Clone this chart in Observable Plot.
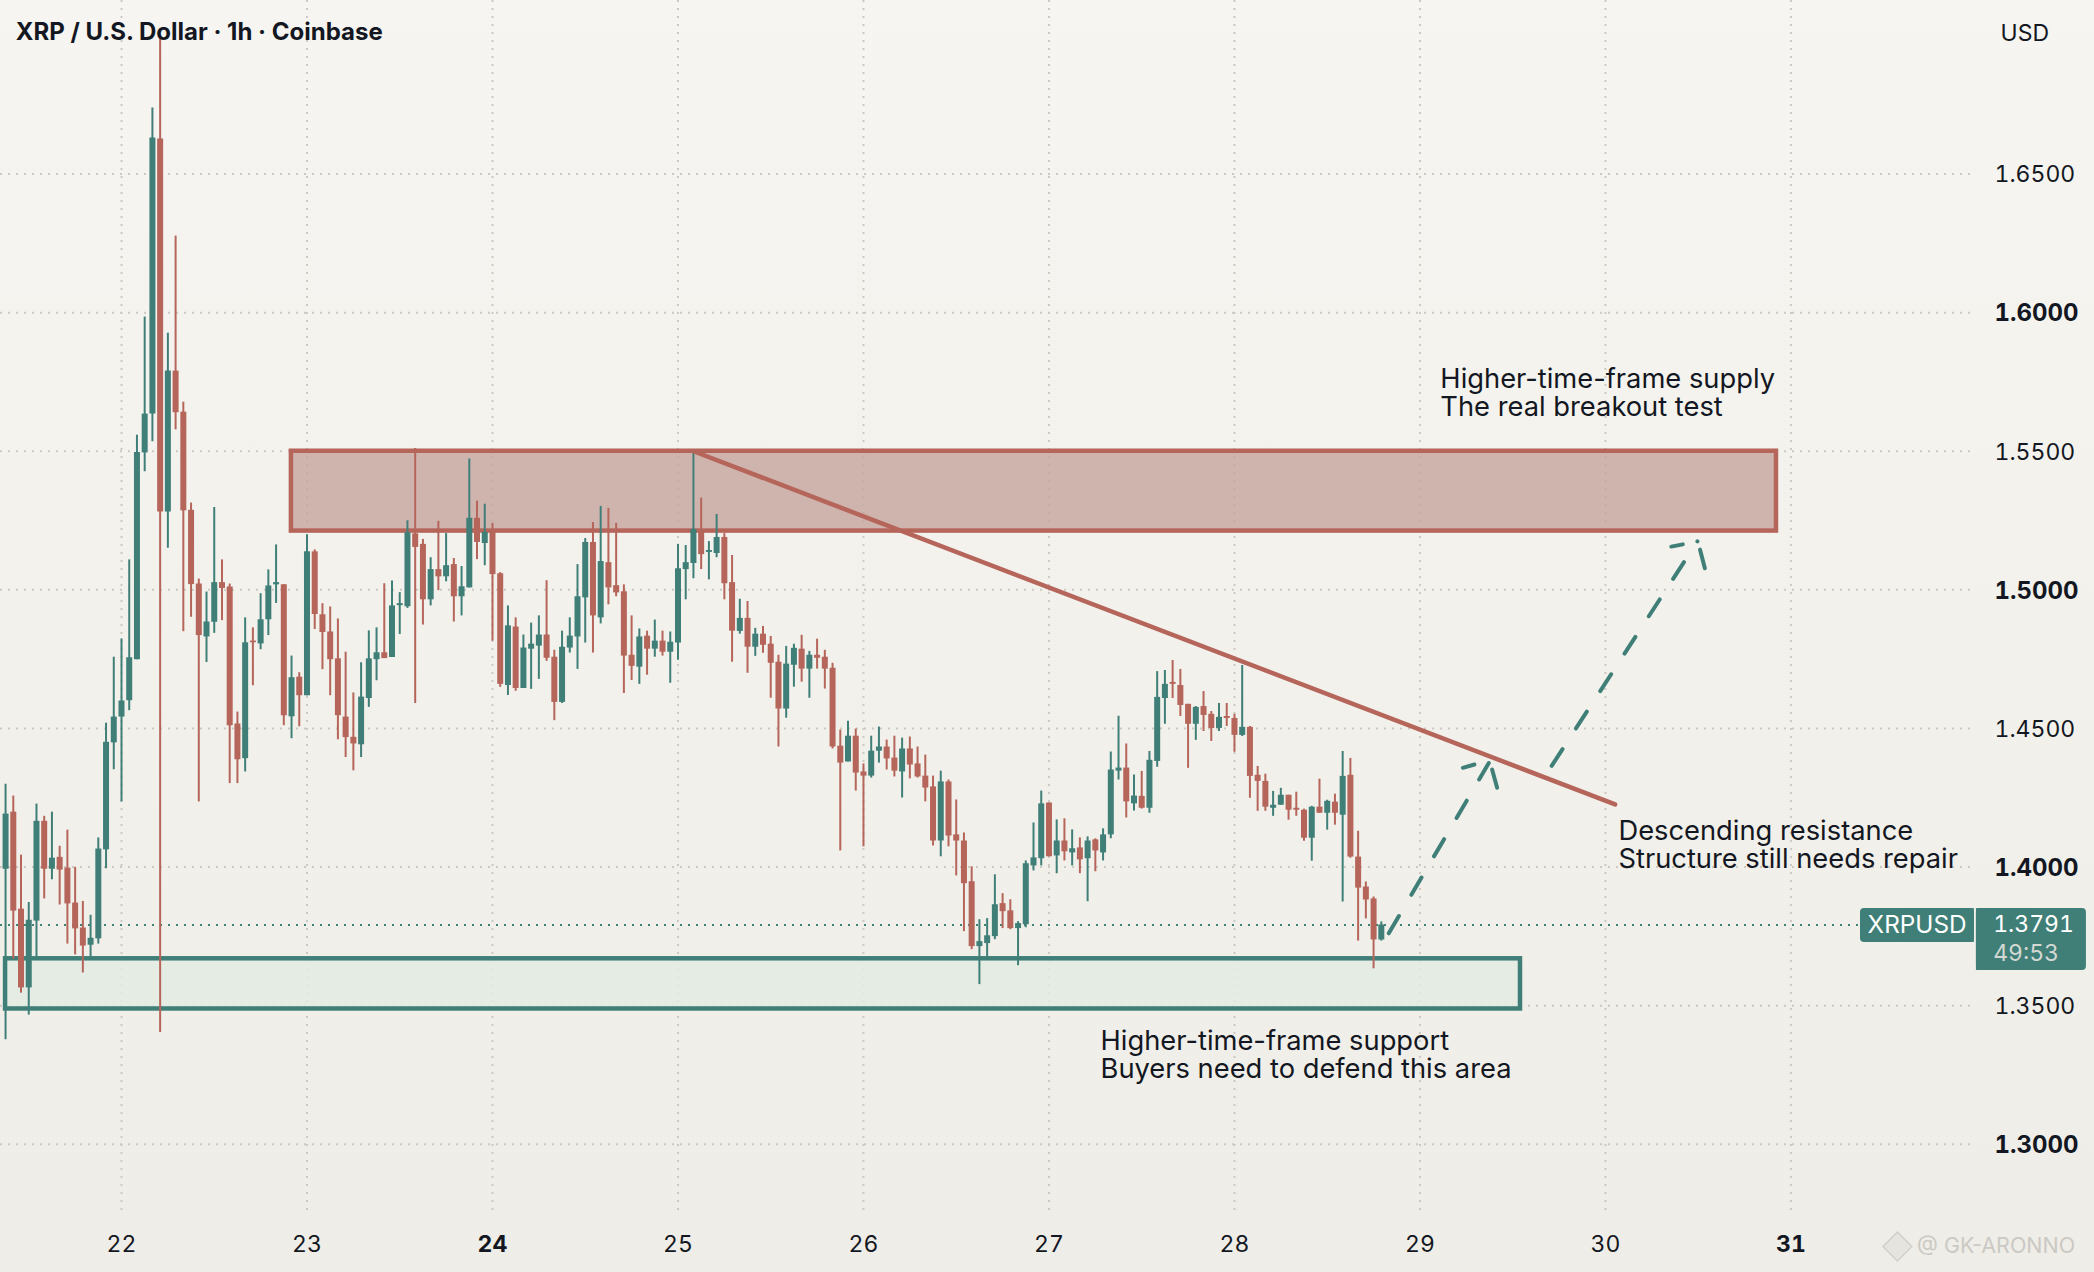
<!DOCTYPE html>
<html>
<head>
<meta charset="utf-8">
<script src="https://cdn.jsdelivr.net/npm/d3@7"></script>
<script src="https://cdn.jsdelivr.net/npm/@observablehq/plot@0.6"></script>
<style>
html,body{margin:0;padding:0;width:2094px;height:1272px;overflow:hidden;background:linear-gradient(#f6f5f1,#efede7);}
svg{display:block}
</style>
</head>
<body>
<div id="chart"></div>
<script>
const opens=[1.3992,1.4198,1.3848,1.3564,1.3805,1.4165,1.3992,1.4035,1.3996,1.3870,
1.3780,1.3718,1.3741,1.4062,1.4448,1.4541,1.4600,1.4748,1.5494,1.5634,
1.6626,1.5281,1.5789,1.5641,1.5287,1.5021,1.4830,1.4883,1.5026,1.5010,
1.4516,1.4391,1.4815,1.4805,1.4892,1.5018,1.5018,1.4542,1.4685,1.4618,
1.5137,1.4910,1.4848,1.4751,1.4541,1.4468,1.4441,1.4608,1.4748,1.4773,
1.4756,1.4943,1.4939,1.5202,1.5164,1.4964,1.5073,1.5047,1.5091,1.4975,
1.5007,1.5258,1.5167,1.5207,1.5058,1.4655,1.4866,1.4644,1.4786,1.4797,
1.4837,1.4757,1.4594,1.4790,1.4830,1.4971,1.5171,1.4899,1.5098,1.5015,
1.4993,1.4764,1.4721,1.4833,1.4786,1.4815,1.4775,1.4808,1.5073,1.5095,
1.5211,1.5135,1.5131,1.5189,1.5026,1.4850,1.4897,1.4793,1.4840,1.4804,
1.4739,1.4570,1.4728,1.4786,1.4714,1.4764,1.4757,1.4717,1.4436,1.4379,
1.4472,1.4343,1.4328,1.4418,1.4433,1.4393,1.4343,1.4426,1.4372,1.4328,
1.4289,1.4094,1.4307,1.4116,1.4094,1.3947,1.3713,1.3724,1.3749,1.3868,
1.3842,1.3778,1.3792,1.4004,1.4030,1.4231,1.4040,1.4094,1.4051,1.4069,
1.4030,1.4098,1.4051,1.4116,1.4346,1.4357,1.4228,1.4255,1.4212,1.4381,
1.4608,1.4666,1.4655,1.4587,1.4515,1.4579,1.4551,1.4500,1.4543,1.4536,
1.4475,1.4504,1.4331,1.4309,1.4212,1.4223,1.4259,1.4212,1.4205,1.4104,
1.4216,1.4194,1.4234,1.4187,1.4331,1.4036,1.3928,1.3885,1.3737];
const closes=[1.4191,1.3841,1.3564,1.3808,1.4165,1.3992,1.4032,1.3989,1.3867,1.3777,
1.3715,1.3743,1.4065,1.4450,1.4541,1.4599,1.4755,1.5495,1.5634,1.6630,
1.5281,1.5789,1.5639,1.5285,1.5019,1.4835,1.4884,1.5026,1.5005,1.4510,
1.4387,1.4809,1.4809,1.4892,1.5014,1.5026,1.4546,1.4683,1.4618,1.5137,
1.4911,1.4846,1.4748,1.4546,1.4467,1.4444,1.4613,1.4751,1.4773,1.4752,
1.4942,1.4950,1.5206,1.5153,1.4964,1.5073,1.5047,1.5087,1.4975,1.5011,
1.5258,1.5171,1.5207,1.5055,1.4659,1.4870,1.4644,1.4790,1.4804,1.4837,
1.4753,1.4594,1.4793,1.4833,1.4975,1.5171,1.4906,1.5102,1.5007,1.4989,
1.4761,1.4724,1.4830,1.4786,1.4815,1.4775,1.4811,1.5076,1.5098,1.5218,
1.5127,1.5142,1.5189,1.5022,1.4851,1.4897,1.4793,1.4840,1.4800,1.4735,
1.4570,1.4732,1.4789,1.4714,1.4764,1.4753,1.4714,1.4433,1.4375,1.4472,
1.4339,1.4328,1.4418,1.4433,1.4390,1.4346,1.4426,1.4368,1.4325,1.4285,
1.4094,1.4307,1.4112,1.4094,1.3940,1.3713,1.3731,1.3752,1.3864,1.3839,
1.3778,1.3796,1.4012,1.4033,1.4228,1.4037,1.4094,1.4055,1.4066,1.4026,
1.4094,1.4058,1.4116,1.4350,1.4357,1.4235,1.4256,1.4212,1.4385,1.4612,
1.4659,1.4659,1.4583,1.4515,1.4576,1.4547,1.4500,1.4540,1.4536,1.4475,
1.4504,1.4327,1.4309,1.4216,1.4223,1.4259,1.4205,1.4205,1.4104,1.4216,
1.4194,1.4237,1.4194,1.4327,1.4036,1.3924,1.3881,1.3737,1.3791];
const highs=[1.4299,1.4256,1.4043,1.3872,1.4227,1.4183,1.4198,1.4075,1.4133,1.3999,
1.3876,1.3826,1.4105,1.4519,1.4757,1.4823,1.5108,1.5558,1.5984,1.6738,
1.6990,1.5926,1.6276,1.5677,1.5313,1.5039,1.4992,1.5297,1.5108,1.5021,
1.4559,1.4899,1.4863,1.4986,1.5072,1.5162,1.5018,1.4761,1.4701,1.5199,
1.5144,1.4950,1.4938,1.4895,1.4775,1.4628,1.4737,1.4852,1.4863,1.5022,
1.5032,1.4990,1.5249,1.5510,1.5182,1.5116,1.5247,1.5203,1.5113,1.5084,
1.5472,1.5320,1.5309,1.5240,1.5062,1.4942,1.4899,1.4837,1.4880,1.4906,
1.5033,1.4782,1.4851,1.4899,1.5091,1.5185,1.5243,1.5301,1.5294,1.5240,
1.5018,1.4906,1.4859,1.4851,1.4891,1.4851,1.4848,1.5164,1.5160,1.5501,
1.5331,1.5174,1.5272,1.5203,1.5124,1.4966,1.4958,1.4861,1.4868,1.4832,
1.4764,1.4796,1.4804,1.4836,1.4778,1.4822,1.4782,1.4735,1.4494,1.4526,
1.4498,1.4372,1.4472,1.4505,1.4458,1.4472,1.4465,1.4469,1.4433,1.4404,
1.4328,1.4346,1.4314,1.4242,1.4123,1.4001,1.3810,1.3814,1.3972,1.3904,
1.3882,1.3803,1.4022,1.4159,1.4274,1.4231,1.4170,1.4174,1.4134,1.4105,
1.4109,1.4102,1.4138,1.4415,1.4544,1.4444,1.4332,1.4345,1.4417,1.4705,
1.4709,1.4745,1.4713,1.4587,1.4579,1.4633,1.4561,1.4590,1.4590,1.4551,
1.4727,1.4507,1.4363,1.4335,1.4273,1.4284,1.4259,1.4270,1.4209,1.4219,
1.4317,1.4241,1.4263,1.4417,1.4392,1.4129,1.3946,1.3892,1.3802];
const lows=[1.3377,1.3667,1.3545,1.3466,1.3667,1.3885,1.3954,1.3863,1.3722,1.3683,
1.3618,1.3670,1.3722,1.3994,1.4351,1.4235,1.4564,1.4748,1.5426,1.5534,
1.3403,1.5150,1.5577,1.4849,1.4901,1.4235,1.4738,1.4843,1.4889,1.4301,
1.4301,1.4343,1.4654,1.4784,1.4835,1.4951,1.4510,1.4463,1.4506,1.4618,
1.4857,1.4712,1.4618,1.4459,1.4395,1.4347,1.4395,1.4576,1.4672,1.4752,
1.4756,1.4839,1.4933,1.4590,1.4873,1.4942,1.4997,1.5029,1.4884,1.4906,
1.5007,1.5109,1.5087,1.4815,1.4648,1.4619,1.4634,1.4644,1.4641,1.4677,
1.4742,1.4528,1.4590,1.4772,1.4713,1.4808,1.4772,1.4877,1.4946,1.4975,
1.4626,1.4673,1.4659,1.4692,1.4757,1.4761,1.4663,1.4746,1.4964,1.5040,
1.5073,1.5036,1.5116,1.4964,1.4739,1.4840,1.4699,1.4760,1.4771,1.4609,
1.4433,1.4537,1.4649,1.4667,1.4609,1.4714,1.4642,1.4426,1.4058,1.4379,
1.4274,1.4073,1.4321,1.4375,1.4350,1.4325,1.4249,1.4318,1.4321,1.4235,
1.4076,1.4037,1.4073,1.3968,1.3767,1.3702,1.3576,1.3670,1.3738,1.3778,
1.3774,1.3644,1.3781,1.3986,1.4004,1.4037,1.3976,1.4022,1.4004,1.3976,
1.3875,1.3983,1.4022,1.4102,1.4314,1.4177,1.4202,1.4209,1.4194,1.4360,
1.4515,1.4608,1.4543,1.4356,1.4457,1.4489,1.4453,1.4489,1.4507,1.4414,
1.4471,1.4248,1.4201,1.4201,1.4183,1.4223,1.4169,1.4183,1.4093,1.4021,
1.4194,1.4133,1.4151,1.3874,1.4032,1.3733,1.3813,1.3633,1.3733];

const firstCandleDay=21+9/24;
const dayTicks=[22,23,25,26,27,28,29,30];
const dayTicksBold=[24,31];
const priceTicks=[1.65,1.55,1.45,1.35];
const priceTicksBold=[1.60,1.50,1.40,1.30];
const lastPrice=1.3791;

const supplyZone={x1:22.916,x2:30.922,y1:1.5212,y2:1.55};
const supportZone={x1:21.375,x2:29.542,y1:1.3488,y2:1.3669};
const trendDays=[25.084,30.052];
const trendPrices=[1.55,1.4226];

const shaftDays=[28.832,29.371,29.710,30.496];
const shaftPrices=[1.3761,1.4375,1.4365,1.5175];
const shaftIds=["a","a","b","b"];
const armDays=[29.231,29.294,29.416,29.389,30.355,30.417,30.536,30.510];
const armPrices=[1.4358,1.4370,1.4286,1.4352,1.5156,1.5164,1.5078,1.5145];
const armIds=["c","c","d","d","e","e","f","f"];

const noteTexts=["Higher-time-frame supply","The real breakout test","Descending resistance","Structure still needs repair","Higher-time-frame support","Buyers need to defend this area"];
const noteDays=[29.11,29.11,30.07,30.07,27.278,27.278];
const notePrices=[1.5759,1.5658,1.4129,1.4028,1.3372,1.3271];

const green="#3f7f78", red="#b5655a", gridColor="#ccc9c3", ink="#131722";
const fontFamily="Inter, 'Noto Sans', sans-serif";

const candles=opens.map((o,i)=>({day:firstCandleDay+i/24,open:o,close:closes[i],high:highs[i],low:lows[i],color:closes[i]>=o?green:red}));
const zip=(a,b,c)=>a.map((v,i)=>({x:v,y:b[i],id:c?c[i]:0}));
const notes=noteTexts.map((t,i)=>({t,x:noteDays[i],y:notePrices[i]}));
const tagLeft={x1:31.375,x2:31.989,y1:1.3728,y2:1.3850};
const tagRight={x1:32.0,x2:32.593,y1:1.3627,y2:1.3850};

const chart=Plot.plot({
  width:2094,height:1272,
  marginLeft:0,marginRight:124,marginTop:0,marginBottom:62,
  style:{background:"transparent",fontFamily},
  x:{domain:[21.3477,31.968]},
  y:{domain:[1.2761,1.7126]},
  marks:[
    Plot.gridX([...dayTicks,...dayTicksBold],{stroke:gridColor,strokeOpacity:1,strokeWidth:2,strokeDasharray:"2 6"}),
    Plot.gridY([...priceTicks,...priceTicksBold],{stroke:gridColor,strokeOpacity:1,strokeWidth:2,strokeDasharray:"2 6"}),
    Plot.axisX(dayTicks,{anchor:"bottom",tickSize:0,tickPadding:25,fontSize:23,fill:ink,label:null,tickFormat:String}),
    Plot.axisX(dayTicksBold,{anchor:"bottom",tickSize:0,tickPadding:25,fontSize:23,fontWeight:700,fill:ink,label:null,tickFormat:String}),
    Plot.axisY(priceTicks,{anchor:"right",tickSize:0,tickPadding:24,dy:1,fontSize:23,fill:ink,label:null,tickFormat:d=>d.toFixed(4)}),
    Plot.axisY(priceTicksBold,{anchor:"right",tickSize:0,tickPadding:24,dy:1,fontSize:24,fontWeight:700,fill:ink,label:null,tickFormat:d=>d.toFixed(4)}),
    Plot.rect([supplyZone],{x1:"x1",x2:"x2",y1:"y1",y2:"y2",fill:"#c6a49d",fillOpacity:0.8,stroke:red,strokeWidth:4.5}),
    Plot.rect([supportZone],{x1:"x1",x2:"x2",y1:"y1",y2:"y2",fill:"#e2ebe3",fillOpacity:0.85,stroke:green,strokeWidth:4.5}),
    Plot.ruleY([lastPrice],{x1:21.3477,x2:31.364,stroke:green,strokeWidth:2,strokeDasharray:"2 6"}),
    Plot.ruleX(candles,{x:"day",y1:"low",y2:"high",stroke:"color",strokeWidth:2}),
    Plot.ruleX(candles,{x:"day",y1:"open",y2:"close",stroke:"color",strokeWidth:6}),
    Plot.line(zip(trendDays,trendPrices),{x:"x",y:"y",stroke:red,strokeWidth:4.5}),
    Plot.line(zip(shaftDays,shaftPrices,shaftIds),{x:"x",y:"y",z:"id",stroke:green,strokeWidth:4,strokeDasharray:"20 24.6"}),
    Plot.line(zip(armDays,armPrices,armIds),{x:"x",y:"y",z:"id",stroke:green,strokeWidth:4}),
    Plot.text(notes,{x:"x",y:"y",text:"t",textAnchor:"start",fontSize:27.3,fill:ink}),
    Plot.text(["XRP / U.S. Dollar · 1h · Coinbase"],{x:21.43,y:1.7011,textAnchor:"start",fontSize:24,fontWeight:700,fill:ink}),
    Plot.text(["USD"],{x:32.13,y:1.7007,textAnchor:"start",fontSize:23,fill:ink}),
    Plot.rect([tagLeft],{x1:"x1",x2:"x2",y1:"y1",y2:"y2",fill:green,rx:4}),
    Plot.rect([tagRight],{x1:"x1",x2:"x2",y1:"y1",y2:"y2",fill:green,rx:4}),
    Plot.rect([{...tagLeft,x1:31.6}],{x1:"x1",x2:"x2",y1:"y1",y2:"y2",fill:green}),
    Plot.rect([{...tagRight,x2:32.3}],{x1:"x1",x2:"x2",y1:"y1",y2:"y2",fill:green}),
    Plot.text(["XRPUSD"],{x:31.68,y:lastPrice,fontSize:24.3,fill:"#ffffff"}),
    Plot.text(["1.3791"],{x:32.09,y:lastPrice,textAnchor:"start",fontSize:23,fontVariant:"tabular-nums",fill:"#ffffff"}),
    Plot.text(["49:53"],{x:32.09,y:1.3689,textAnchor:"start",fontSize:23,fontVariant:"tabular-nums",fill:"#d3d8d3"}),
    Plot.dot([0],{x:31.574,y:1.2631,symbol:"diamond2",r:13,fill:"#e6e4df",stroke:"#d2d0cb",strokeWidth:1.5}),
    Plot.text(["@ GK-ARONNO"],{x:31.68,y:1.2631,textAnchor:"start",fontSize:21.5,fill:"#cbc9c4"})
  ]
});
document.getElementById("chart").appendChild(chart);
</script>
</body>
</html>
